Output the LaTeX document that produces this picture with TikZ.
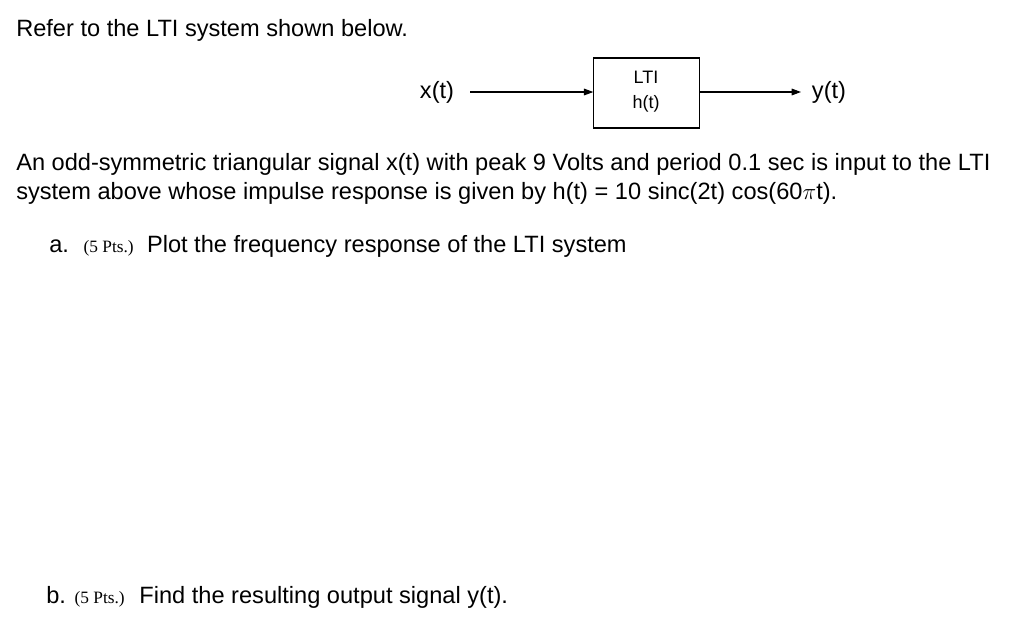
\documentclass[tikz,border=0pt]{standalone}
\usepackage{fontspec}
\setmainfont{Liberation Sans}
\newfontfamily\tms{Liberation Serif}
\usetikzlibrary{arrows.meta}
\begin{document}
\begin{tikzpicture}[x=0.75pt,y=-0.75pt,
  txt/.style={anchor=west,inner sep=0pt,font=\fontsize{17.7}{21}\selectfont},
  sm/.style={inner sep=0pt,font=\fontsize{13.5}{16}\selectfont},
  pts/.style={font=\tms\fontsize{13}{16}\selectfont},
  arr/.style={-{Triangle[length=7pt,width=5pt]},line width=0.8pt}]
\useasboundingbox (0,0) rectangle (1024,618);
\node[txt] (t1) at (16,30) {Refer to the LTI system shown below.};
\node[draw,line width=0.8pt,minimum width=79pt,minimum height=52.5pt,inner sep=0pt] (box) at (646.5,93) {};
\node[sm] (l1) at (646,77) {LTI};
\node[sm] (l2) at (646,104) {h(t)};
\node[txt,anchor=center] (x) at (437,92) {x(t)};
\node[txt,anchor=center] (y) at (829,92) {y(t)};
\coordinate (xs) at (470,92);
\coordinate (ye) at (801,92);
\draw[arr] (xs) -- (box.west|-xs);
\draw[arr] (box.east|-ye) -- (ye);
\node[txt] (p1) at (16,164) {An odd-symmetric triangular signal x(t) with peak 9 Volts and period 0.1 sec is input to the LTI};
\node[txt] (p2) at (16,193) {system above whose impulse response is given by h(t) = 10 sinc(2t) cos(60\(\pi\)t).};
\node[txt] (a) at (49,246) {a.\hspace{11pt}\textnormal{\tms\fontsize{13}{16}\selectfont (5 Pts.)}\hspace{10pt}Plot the frequency response of the LTI system};
\node[txt] (b) at (46,597) {b. \textnormal{\tms\fontsize{13}{16}\selectfont (5 Pts.)}\hspace{11pt}Find the resulting output signal y(t).};
\end{tikzpicture}
\end{document}
